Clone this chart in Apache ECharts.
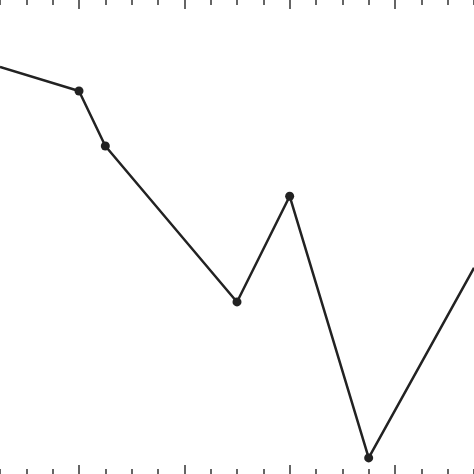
<!DOCTYPE html><html><head><meta charset="utf-8"><script src="https://cdn.jsdelivr.net/npm/echarts@6/dist/echarts.min.js"></script>
<style>html,body{margin:0;padding:0;background:#fff}#c{width:474px;height:474px}</style></head><body><div id="c"></div><script>
const xs=[0,3,4,9,11,14,18];
const ys=[85.9,80.8,69.2,36.3,58.6,3.4,43.5];
const marked=[false,true,true,true,true,true,false];
const majorTicks=[3,7,11,15];
const c=echarts.init(document.getElementById('c'));
const ax=(pos,vals,len,idx)=>({type:'value',position:pos,min:0,max:18,interval:1,gridIndex:0,
 axisLine:{show:false},axisLabel:{show:false},splitLine:{show:false},
 axisTick:{show:true,inside:true,length:len,lineStyle:{color:'#333',width:1.5},customValues:vals}});
const all=Array.from({length:19},(_,i)=>i);
c.setOption({animation:false,grid:{left:0,right:0,top:0,bottom:0},
 xAxis:[ax('bottom',all,5),ax('top',all,5),ax('bottom',majorTicks,9),ax('top',majorTicks,9)],
 yAxis:{type:'value',min:0,max:100,show:false},
 series:[{type:'line',xAxisIndex:0,data:xs.map((x,i)=>({value:[x,ys[i]],symbolSize:marked[i]?9:0})),
  symbol:'circle',showAllSymbol:true,lineStyle:{color:'#222',width:2.5},itemStyle:{color:'#222'}}]});
</script></body></html>
